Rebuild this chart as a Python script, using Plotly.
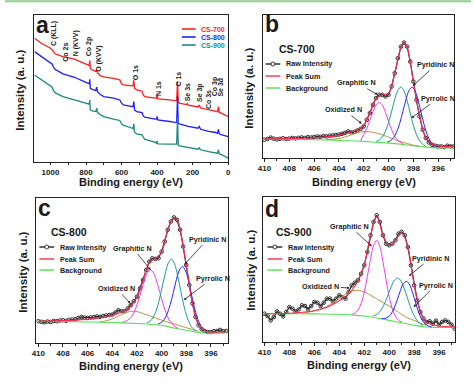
import plotly.graph_objects as go

FONT = "Liberation Sans, Arial, sans-serif"
W, H = 474, 383

# ---------------- Panel a: survey spectra ----------------
survey_energy = [1090, 1050, 1000, 990, 985, 975, 930, 865, 810, 790,
                 782, 779, 776, 765, 745, 740, 735, 718, 700, 645,
                 610, 600, 590, 540, 535, 531, 527, 515, 485, 478,
                 470, 410, 404, 400, 396, 330, 295, 290, 285, 281,
                 275, 235, 230, 225, 170, 163, 155, 110, 70, 60,
                 55, 50, 40, 0]
survey_cs700 = [84.1, 80.5, 77.3, 76.5, 75.5, 73.5, 71.6, 69.8, 67.0, 66.0,
                65.5, 69.0, 63.5, 62.5, 61.5, 62.5, 60.5, 58.4, 57.8, 56.8,
                55.7, 53.0, 52.3, 51.6, 51.8, 55.5, 50.0, 48.9, 48.0, 45.5,
                44.3, 43.2, 43.2, 45.5, 42.8, 42.0, 41.4, 41.4, 55.0, 41.0,
                39.8, 38.8, 39.5, 38.5, 37.2, 38.5, 36.5, 35.2, 34.1, 34.0,
                37.5, 33.5, 33.0, 30.7]
survey_cs800 = [75.0, 71.6, 67.0, 66.4, 64.8, 63.0, 59.8, 57.5, 54.5, 53.4,
                53.0, 56.1, 50.0, 49.3, 48.4, 50.7, 47.7, 45.5, 44.3, 43.2,
                42.0, 39.8, 38.6, 37.5, 37.5, 40.9, 35.2, 34.1, 33.4, 31.1,
                30.2, 28.9, 28.9, 30.7, 28.4, 27.3, 26.6, 26.6, 44.3, 26.1,
                25.7, 24.3, 24.3, 23.9, 22.7, 23.9, 22.0, 20.5, 19.8, 19.3,
                22.0, 18.9, 18.4, 17.0]
survey_cs900 = [59.1, 55.7, 51.6, 50.7, 48.9, 47.0, 44.3, 42.0, 40.2, 39.3,
                39.1, 42.0, 35.2, 34.5, 34.1, 36.4, 33.4, 31.8, 30.7, 28.9,
                28.0, 25.7, 24.8, 22.7, 22.5, 25.7, 19.8, 18.9, 18.2, 16.6,
                15.2, 13.0, 12.5, 14.1, 12.0, 11.8, 11.6, 11.8, 30.2, 10.9,
                10.7, 9.8, 10.0, 9.5, 8.4, 9.3, 8.0, 6.8, 6.1, 5.7,
                8.0, 5.2, 4.8, 2.3]
survey_names = ["CS-700", "CS-800", "CS-900"]
survey_colors = ["#ff1f1f", "#1f1fff", "#1f8a7e"]

peak_labels = ["C (KLL)", "Co 2s", "N (KVV)", "Co 2p", "O (KVV)", "O 1s", "N 1s",
               "C 1s", "Se 3s", "Se 3p", "Co 3s", "Co 3p", "Se 3d"]
peak_label_e = [976, 912, 856, 783, 724, 521, 396, 282, 228, 162, 107, 74, 44]
peak_label_v = [87.5, 74.3, 80.7, 78.0, 69.8, 60.7, 50.0, 56.0, 47.0, 47.0, 42.0, 50.7, 50.7]

# ---------------- Panels b-d: N 1s high resolution ----------------
raw_energy = [round(410 - 0.25 * i, 2) for i in range(62)]

raw_b = [12.8, 13.3, 14.2, 13.5, 13.0, 13.4, 13.8, 13.2, 13.6, 14.0,
         13.7, 14.1, 14.4, 14.0, 14.6, 14.3, 14.7, 15.0, 14.8, 15.3,
         15.1, 15.6, 15.8, 16.1, 16.4, 16.9, 17.6, 18.6, 17.9, 18.3,
         19.3, 20.4, 22.1, 26.7, 31.4, 37.2, 41.9, 44.2, 44.2, 43.0,
         44.2, 50.0, 59.3, 69.8, 77.9, 80.7, 77.9, 67.4, 53.5, 40.7,
         29.1, 19.8, 14.0, 10.9, 9.3, 8.6, 8.1, 8.1, 7.7, 8.6,
         8.1, 8.1]
raw_c = [15.0, 14.6, 14.3, 14.8, 14.5, 15.2, 15.0, 15.5, 15.7, 15.3,
         16.0, 16.2, 16.4, 17.2, 18.0, 17.5, 17.3, 17.6, 17.8, 18.3,
         18.0, 18.6, 19.0, 19.3, 19.6, 21.0, 22.6, 22.0, 21.9, 23.8,
         26.1, 28.8, 31.9, 37.6, 43.4, 50.3, 56.1, 58.4, 58.0, 58.4,
         63.0, 70.0, 78.1, 83.8, 86.6, 85.0, 78.1, 66.5, 53.8, 40.0,
         27.3, 18.0, 12.2, 9.5, 8.3, 7.6, 7.6, 8.1, 8.3, 9.0,
         8.1, 8.3]
raw_d = [19.5, 17.9, 14.9, 17.2, 21.1, 19.5, 17.7, 20.7, 24.1, 23.0,
         21.1, 22.5, 25.3, 24.8, 22.5, 24.8, 27.6, 27.1, 24.8, 27.1,
         29.9, 29.9, 28.0, 29.9, 32.2, 31.0, 29.9, 34.5, 39.1, 40.9,
         42.5, 47.1, 52.9, 62.1, 73.6, 82.8, 87.4, 82.8, 73.6, 67.8,
         66.7, 67.8, 70.1, 74.7, 75.9, 73.6, 65.5, 52.9, 39.1, 28.7,
         20.7, 16.1, 13.8, 14.3, 12.6, 14.7, 12.0, 13.8, 14.9, 13.8,
         12.0, 9.2]

sum_e_bc = [410, 408, 406, 405, 404, 403.5, 403, 402.5, 402, 401.5, 401, 400.5,
            400, 399.5, 399, 398.75, 398.5, 398, 397.5, 397, 396.5, 396, 395, 394.75]
sum_b = [13.2, 13.6, 14.2, 14.8, 16.0, 17.0, 18.3, 19.8, 22.8, 32.0, 41.5, 44.3,
         45.2, 59.0, 77.5, 80.5, 77.5, 53.5, 29.5, 14.5, 9.8, 8.4, 8.0, 8.0]
sum_c = [15.0, 15.4, 16.5, 17.5, 19.2, 20.5, 22.0, 25.5, 31.5, 43.0, 55.5, 58.5,
         62.5, 78.0, 86.5, 85.5, 78.5, 54.0, 27.5, 12.5, 8.5, 7.6, 7.6, 7.6]
sum_e_d = [410, 408, 406, 405, 404, 403.5, 403, 402.5, 402, 401.5, 401, 400.5,
           400, 399.5, 399, 398.5, 398, 397.5, 397, 396, 395, 394.75]
sum_d = [19.5, 19.8, 21.5, 24.0, 28.5, 31.5, 35.5, 42.0, 53.0, 73.5, 86.5, 74.0,
         66.5, 70.0, 75.5, 65.5, 39.5, 21.0, 13.5, 11.0, 10.5, 10.5]

bg_e_bc = [410, 408, 406, 404, 402, 401, 400, 399, 398, 397, 396, 395, 394.75]
bg_b = [13.3, 13.1, 12.8, 12.3, 11.6, 11.0, 10.4, 9.6, 8.6, 7.6, 7.1, 7.0, 7.0]
bg_c = [15.0, 14.8, 14.5, 14.1, 13.4, 12.9, 12.2, 10.4, 8.8, 7.2, 6.7, 7.0, 7.2]
bg_e_d = [410, 408, 406, 404, 403, 402, 401, 400, 399, 398, 397, 396, 395, 394.75]
bg_d = [19.5, 19.6, 19.4, 19.1, 18.6, 17.9, 16.6, 14.9, 13.3, 11.5, 10.3, 10.1, 10.1, 10.1]

# Oxidized N
oxi_e_b = [405, 404, 403.5, 403, 402.5, 402, 401.5, 401, 400.5, 400, 399.5, 399, 398.5, 398, 397.5]
oxi_b = [12.9, 13.6, 14.7, 16.2, 17.6, 18.5, 18.3, 17.5, 16.2, 14.6, 12.9, 11.4, 10.1, 9.0, 8.2]
oxi_e_c = [405, 404.5, 404, 403.5, 403, 402.5, 402, 401.5, 401, 400.5, 400, 399.5, 399, 398.5, 398, 397.5, 397]
oxi_c = [14.6, 15.3, 16.6, 18.4, 20.5, 21.8, 21.7, 20.3, 18.9, 17.3, 15.8, 14.5, 13.3, 11.8, 10.6, 9.3, 8.0]
oxi_e_d = [407, 406, 405, 404.5, 404, 403.5, 403, 402.5, 402, 401.5, 401, 400.5, 400, 399.5, 399, 398.5, 398, 397.5, 397]
oxi_d = [19.8, 21.5, 24.5, 27.3, 30.0, 33.0, 35.2, 35.6, 34.5, 32.3, 29.8, 27.2, 24.8, 22.0, 19.0, 16.6, 14.9, 13.0, 11.6]

# Graphitic N
gra_e_b = [402.25, 402, 401.75, 401.5, 401.25, 401, 400.75, 400.5, 400.25, 400, 399.75, 399.5, 399.25, 399, 398.75]
gra_b = [12.0, 16.6, 20.7, 26.3, 32.4, 37.1, 38.8, 36.9, 32.0, 25.6, 19.7, 15.2, 12.3, 10.6, 9.5]
gra_e_c = [403.15, 402.9, 402.65, 402.4, 402.15, 401.9, 401.65, 401.4, 401.15, 400.9,
           400.65, 400.4, 400.15, 399.9, 399.65, 399.4, 399.15, 398.9, 398.65]
gra_c = [14.4, 15.0, 16.3, 18.6, 22.8, 28.7, 35.9, 43.1, 48.4, 50.3,
         48.2, 42.6, 35.1, 27.5, 20.9, 16.1, 13.2, 11.3, 10.1]
gra_e_d = [403, 402.75, 402.5, 402.25, 402, 401.75, 401.5, 401.25, 401, 400.75,
           400.5, 400.25, 400, 399.75, 399.5, 399.25, 399]
gra_d = [19.1, 19.8, 22.0, 26.5, 34.3, 45.1, 57.1, 66.7, 70.1, 65.9,
         55.6, 42.8, 31.3, 22.9, 17.8, 15.1, 13.8]

# Teal component
tea_e_b = [401, 400.75, 400.5, 400.25, 400, 399.75, 399.5, 399.25, 399, 398.75,
           398.5, 398.25, 398, 397.75, 397.5, 397.25, 397]
tea_b = [11.6, 12.6, 14.7, 18.7, 24.8, 32.7, 41.0, 47.3, 49.6, 46.8,
         40.1, 31.3, 23.0, 16.4, 12.1, 9.6, 8.3]
tea_e_c = [401.2, 400.95, 400.7, 400.45, 400.2, 399.95, 399.7, 399.45, 399.2, 398.95,
           398.7, 398.45, 398.2, 397.95, 397.7, 397.45, 397.2]
tea_c = [13.8, 15.0, 17.5, 22.1, 29.3, 38.6, 48.1, 55.3, 57.9, 54.5,
         46.4, 36.0, 26.0, 18.2, 13.0, 9.9, 8.3]
tea_e_d = [401.3, 401.05, 400.8, 400.55, 400.3, 400.05, 399.8, 399.55, 399.3, 399.05,
           398.8, 398.55, 398.3, 398.05, 397.8, 397.55, 397.3]
tea_d = [18.0, 18.7, 20.4, 23.4, 27.9, 33.4, 38.9, 42.9, 44.1, 42.1,
         37.2, 30.8, 24.4, 19.0, 15.3, 12.8, 11.5]

# Blue component
blu_e_b = [400.1, 399.85, 399.6, 399.35, 399.1, 398.85, 398.6, 398.35, 398.1, 397.85,
           397.6, 397.35, 397.1, 396.85, 396.6, 396.35, 396.1]
blu_b = [11.2, 12.1, 14.2, 18.1, 24.2, 32.3, 40.6, 47.2, 49.5, 46.7,
         39.7, 30.8, 22.3, 15.7, 11.3, 8.9, 7.7]
blu_e_c = [400.3, 400.05, 399.8, 399.55, 399.3, 399.05, 398.8, 398.55, 398.3, 398.05,
           397.8, 397.55, 397.3, 397.05, 396.8, 396.55, 396.3]
blu_c = [13.1, 14.0, 16.1, 20.1, 26.5, 34.8, 43.7, 50.4, 52.7, 49.6,
         42.1, 32.4, 23.2, 16.1, 11.4, 8.7, 7.4]
blu_e_d = [400.6, 400.35, 400.1, 399.85, 399.6, 399.35, 399.1, 398.85, 398.6, 398.35,
           398.1, 397.85, 397.6, 397.35, 397.1, 396.85, 396.6]
blu_d = [16.2, 16.3, 17.2, 19.3, 23.3, 29.1, 35.5, 40.4, 41.8, 39.3,
         33.4, 26.2, 19.7, 15.1, 12.4, 11.0, 10.4]

sample_names = ["CS-700", "CS-800", "CS-900"]
legend_names = ["Raw Intensity", "Peak Sum", "Background"]
comp_names = ["Graphitic N", "Oxidized N", "Pyridinic N", "Pyrrolic N"]

C_RAW = "#262626"
C_SUM = "#ff2a55"
C_BG = "#55e055"
C_GRA = "#ee3cee"
C_OXI = "#b8964e"
C_TEA = "#1f9c9c"
C_BLU = "#2626ff"

fig = go.Figure()


def add(x, y, xa, ya, color, width=1.2, shape="linear", **kw):
    fig.add_trace(go.Scatter(x=x, y=y, xaxis=xa, yaxis=ya, mode="lines",
                             line=dict(color=color, width=width, shape=shape),
                             showlegend=False, hoverinfo="skip", **kw))


# Panel a
for vals, col in zip([survey_cs700, survey_cs800, survey_cs900], survey_colors):
    add(survey_energy, vals, "x", "y", col, width=1.3)

# Panels b-d
panels = [
    ("x2", "y2", raw_b, sum_e_bc, sum_b, bg_e_bc, bg_b, oxi_e_b, oxi_b, gra_e_b, gra_b, tea_e_b, tea_b, blu_e_b, blu_b),
    ("x3", "y3", raw_c, sum_e_bc, sum_c, bg_e_bc, bg_c, oxi_e_c, oxi_c, gra_e_c, gra_c, tea_e_c, tea_c, blu_e_c, blu_c),
    ("x4", "y4", raw_d, sum_e_d, sum_d, bg_e_d, bg_d, oxi_e_d, oxi_d, gra_e_d, gra_d, tea_e_d, tea_d, blu_e_d, blu_d),
]
for (xa, ya, raw, se, sv, be, bv, oe, ov, ge, gv, te, tv, ue, uv) in panels:
    fig.add_trace(go.Scatter(x=raw_energy, y=raw, xaxis=xa, yaxis=ya, mode="lines+markers",
                             line=dict(color=C_RAW, width=1.2),
                             marker=dict(symbol="circle-open", size=3.6, color="#303030",
                                         line=dict(width=1.0)),
                             showlegend=False, hoverinfo="skip"))
    add(be, bv, xa, ya, C_BG, 1.1, "spline")
    add(oe, ov, xa, ya, C_OXI, 1.0, "spline")
    add(ge, gv, xa, ya, C_GRA, 1.0, "spline")
    add(te, tv, xa, ya, C_TEA, 1.0, "spline")
    add(ue, uv, xa, ya, C_BLU, 1.0, "spline")
    add(se, sv, xa, ya, C_SUM, 1.1, "spline")


def px(x):
    return x / W


def py(y):
    return 1 - y / H


tickfont = dict(family=FONT, size=8, color="#1a1a1a", weight="bold")


def xax(d0, d1, anchor, rng, dtick, minor):
    return dict(domain=[px(d0), px(d1)], anchor=anchor, range=rng, dtick=dtick, tick0=0,
                ticks="outside", ticklen=2.5, tickwidth=1, tickcolor="#222",
                showline=True, mirror=True, linecolor="#222", linewidth=1.2,
                showgrid=False, zeroline=False, tickfont=tickfont,
                minor=dict(dtick=minor, tick0=0, ticks="outside", ticklen=2, tickcolor="#222"))


def yax(t, b, anchor):
    return dict(domain=[py(b), py(t)], anchor=anchor, range=[0, 100],
                showticklabels=False, ticks="", showline=True, mirror=True,
                linecolor="#222", linewidth=1.2, showgrid=False, zeroline=False)


layout = dict(
    width=W, height=H, margin=dict(l=0, r=0, t=0, b=0),
    paper_bgcolor="white", plot_bgcolor="white", showlegend=False,
    font=dict(family=FONT, color="#1a1a1a"),
    xaxis=xax(30, 227, "y", [1090, 0], 200, 100),
    yaxis=yax(15, 161.5, "x"),
    xaxis2=xax(262, 457, "y2", [410.15, 394.7], 2, 1),
    yaxis2=yax(15, 158, "x2"),
    xaxis3=xax(32, 227, "y3", [410.15, 394.6], 2, 1),
    yaxis3=yax(198, 343, "x3"),
    xaxis4=xax(262, 458, "y4", [410.15, 394.7], 2, 1),
    yaxis4=yax(197, 342, "x4"),
)
fig.update_layout(**layout)

ann = []
shapes = []

# top decorative border line
shapes.append(dict(type="line", xref="paper", yref="paper", x0=0, x1=1, y0=py(1.2), y1=py(1.2),
                   line=dict(color="#8fcf8f", width=2)))


def ptext(x, y, text, size, color="#1a1a1a", bold=True, angle=0, xanchor="center"):
    ann.append(dict(x=px(x), y=py(y), xref="paper", yref="paper", text=text, showarrow=False,
                    font=dict(family=FONT, size=size, color=color, weight="bold" if bold else "normal"),
                    textangle=angle, xanchor=xanchor, yanchor="middle"))


# panel letters
for (x, y, t) in [(38, 25, "a"), (272, 24, "b"), (40, 208, "c"), (272, 209, "d")]:
    ptext(x, y, t, 23)

# axis titles
for (x, y) in [(128, 182), (365, 182), (128, 366), (360, 365)]:
    ptext(x, y, "Binding energy (eV)", 11)
for (x, y) in [(15, 90), (248, 88), (18, 272), (250, 270)]:
    ptext(x, y, "Intensity (a. u.)", 11.5, angle=-90)

# panel a legend
for i, (name, col) in enumerate(zip(survey_names, survey_colors)):
    yy = 29 + 8 * i
    shapes.append(dict(type="line", xref="paper", yref="paper", x0=px(180), x1=px(194),
                       y0=py(yy), y1=py(yy), line=dict(color=col, width=1.6)))
    ptext(197, yy, name, 7, color=col, xanchor="left")

# panel a peak labels
for t, e, v in zip(peak_labels, peak_label_e, peak_label_v):
    ann.append(dict(x=e, y=v, xref="x", yref="y", text=t, showarrow=False, textangle=-90,
                    font=dict(family=FONT, size=7, color="#1a1a1a", weight="bold")))

# panels b-d legends & sample titles
leg_colors = [C_RAW, C_SUM, C_BG]
for (lx0, lx1, tx, ty, rows, name) in [
        (265, 280, 297, 49, [64, 76, 88], sample_names[0]),
        (35, 50, 65, 232, [247, 259, 270], sample_names[1]),
        (267, 282, 294, 232, [247, 259, 270], sample_names[2])]:
    ptext(tx, ty, name, 10.5)
    for r, lab, col in zip(rows, legend_names, leg_colors):
        shapes.append(dict(type="line", xref="paper", yref="paper", x0=px(lx0), x1=px(lx1),
                           y0=py(r), y1=py(r), line=dict(color=col, width=1.4)))
        ptext(lx1 + 4, r, lab, 7.2, xanchor="left")
    cx = (lx0 + lx1) / 2
    shapes.append(dict(type="circle", xref="paper", yref="paper",
                       x0=px(cx - 2), x1=px(cx + 2), y0=py(rows[0] + 2), y1=py(rows[0] - 2),
                       line=dict(color=C_RAW, width=0.9), fillcolor="white"))

# component labels with arrows: (axis, text, tip E, tip v, ax, ay)
comp_ann = [
    ("x2", "y2", comp_names[0], 400.87, 44.2, -21, -12),
    ("x2", "y2", comp_names[1], 402.16, 24.0, -18, -14),
    ("x2", "y2", comp_names[2], 398.03, 50.5, 23, -21),
    ("x2", "y2", comp_names[3], 398.16, 27.9, 27, -20),
    ("x3", "y3", comp_names[0], 400.88, 50.3, -18, -22),
    ("x3", "y3", comp_names[1], 402.53, 27.3, -14, -15),
    ("x3", "y3", comp_names[2], 398.13, 54.3, 23, -25),
    ("x3", "y3", comp_names[3], 398.21, 29.6, 29, -22),
    ("x4", "y4", comp_names[0], 401.39, 66.0, -22, -20),
    ("x4", "y4", comp_names[1], 403.16, 37.2, -29, -2),
    ("x4", "y4", comp_names[2], 398.42, 45.5, 22, -18),
    ("x4", "y4", comp_names[3], 398.03, 24.1, 22, -22),
]
for xa, ya, t, e, v, dx, dy in comp_ann:
    ann.append(dict(x=e, y=v, xref=xa, yref=ya, text=t, showarrow=True, ax=dx, ay=dy,
                    arrowhead=2, arrowsize=0.7, arrowwidth=0.8, arrowcolor="#222",
                    font=dict(family=FONT, size=7.2, color="#1a1a1a", weight="bold")))

fig.update_layout(annotations=ann, shapes=shapes)
fig.write_html("out.html", config={"displayModeBar": False},
               post_script="document.body.style.margin='0';document.body.style.padding='0';")
